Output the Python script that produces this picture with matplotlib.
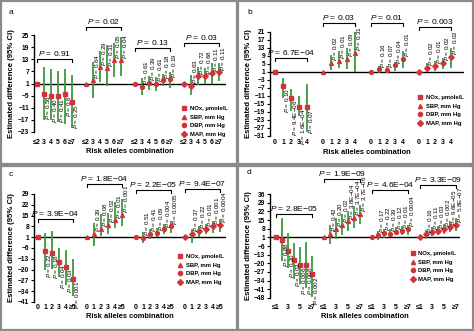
import matplotlib.pyplot as plt
from matplotlib.lines import Line2D
from matplotlib.patches import Rectangle

plt.rcParams["font.family"] = ["Liberation Sans", "DejaVu Sans"]
plt.rcParams["mathtext.fontset"] = "custom"
plt.rcParams["mathtext.it"] = "Liberation Sans:italic"
plt.rcParams["mathtext.rm"] = "Liberation Sans"
plt.rcParams["mathtext.bf"] = "Liberation Sans:bold"

RED = "#d0343a"
GREEN = "#3b9a3b"
GRAY = "#8a8a8a"
W, H = 474, 331

measures = ["NOx, μmole/L", "SBP, mm Hg", "DBP, mm Hg", "MAP, mm Hg"]
shapes = ["s", "^", "o", "D"]

# ---- panel a
a_cats = ["≤2", "3", "4", "5", "6", "≥7"]
a_est = [[1, -4, -5, -5, -4, -8],
         [1, 2.5, 9, 8.5, 12.5, 12.5],
         [1, -0.5, 1.2, 1, 2.5, 3],
         [1, 0, 4.5, 4.5, 6, 6.5]]
a_lo = [[1, -17, -17, -18, -19, -21],
        [1, -6, 1.5, 0, 4, 4.5],
        [1, -4.5, -2, -2.5, 0, -1],
        [1, -4.5, 0.5, 1, 1, 2]]
a_hi = [[1, 9, 8, 7, 8, 5],
        [1, 11.5, 17, 20, 21, 24],
        [1, 3.5, 4.5, 4, 5.5, 6.5],
        [1, 5, 9, 8.5, 11, 11]]
a_p = [["", "0.58", "0.40", "0.41", "0.6", "0.25"],
       ["", "0.64", "0.29", "0.31", "0.05", "0.04"],
       ["", "0.61", "0.39", "0.61", "0.18", "0.19"],
       ["", "0.63", "0.72", "0.68", "0.11", "0.11"]]
a_group_p = ["0.91", "0.02", "0.13", "0.03"]

# ---- panel b
b_cats = ["0", "1", "2", "3", "4"]
b_est = [[1, -6, -12, -16.5, -16.5],
         [1, 5.5, 6.5, 7.5, 10.5],
         [1, 2.3, 2, 4.3, 7.5],
         [1, 3.2, 4, 5.7, 8.5]]
b_lo = [[1, -12, -18.5, -21, -29],
        [1, 2, 3, 2.5, 1],
        [1, 0.5, 0.5, 1.5, 3],
        [1, 1, 1.5, 2.7, 3]]
b_hi = [[1, -2, -7.5, -11, -5],
        [1, 9.5, 11.5, 13, 21],
        [1, 4, 4, 6, 11.5],
        [1, 5.7, 6.5, 8.2, 13]]
b_p = [["", "0.10", "9.4E−06", "1.6E−04", "0.07"],
       ["", "0.02", "0.01", "0.09", "0.31"],
       ["", "0.16", "0.07", "0.04", "0.01"],
       ["", "0.02", "0.01", "0.02", "0.02"]]
b_group_p = ["6.7E−04", "0.03", "0.01", "0.003"]

# ---- panel c
c_cats = ["0", "1", "2", "3", "4", "≥5"]
c_est = [[1, -8, -9, -15, -18, -26],
         [1, 3, 6.5, 9, 12, 15.5],
         [1, 0.5, 3, 4, 6, 8],
         [1, 3, 5, 6.5, 8, 9]]
c_lo = [[1, -20, -19.5, -25, -30, -37],
        [1, -5, 1.5, 3, 7, 8],
        [1, -3, 0, 1, 3, 4],
        [1, -2.5, 1, 3, 4, 4.5]]
c_hi = [[1, 4, 5, -6, -7, -13],
        [1, 10.5, 16, 17, 24, 25.5],
        [1, 4.5, 6, 7, 9.5, 11.5],
        [1, 6, 8.5, 9.5, 11.5, 13]]
c_p = [["", "0.22", "0.18", "0.04", "0.03", "0.001"],
       ["", "0.39", "0.08", "0.02", "0.01", "0.001"],
       ["", "0.51", "0.41", "0.09", "0.004", "0.0005"],
       ["", "0.37", "0.22", "0.01", "0.001", "0.0004"]]
c_group_p = ["3.9E−04", "1.8E−04", "2.2E−05", "9.4E−07"]

# ---- panel d
d_cats = ["≤1", "", "3", "", "5", "", "≥7"]
d_est = [[1, -1.5, -10, -17.5, -21, -21, -29],
         [1, 4, 8, 11, 14, 17, 20],
         [1, 3, 4.5, 4, 5.5, 6.5, 8],
         [1, 3.5, 5.5, 6.5, 8, 9, 11]]
d_lo = [[1, -18, -24, -33, -37, -40, -47],
        [1, -4.5, 0, 3, 6, 8.5, 12],
        [1, -1, 0.5, 1, 2.5, 3, 3],
        [1, 0, 2, 3, 4, 5, 6]]
d_hi = [[1, 17, 4.5, -3.5, -7, -3, -14],
        [1, 11, 16.5, 19.5, 22.5, 26, 27.5],
        [1, 6.5, 8, 7.5, 9, 10, 11],
        [1, 7, 9, 10, 12, 14, 17]]
d_p = [["", "0.88", "0.20", "0.03", "0.006", "0.008", "0.002"],
       ["", "0.42", "0.20", "0.02", "3.8E−04", "3.7E−04", "3.7E−06"],
       ["", "0.17", "0.22", "0.39", "0.12", "0.01", "0.0004"],
       ["", "0.16", "0.11", "0.03", "0.002", "9.6E−05", "5.8E−07"]]
d_group_p = ["2.8E−05", "1.9E−09", "4.6E−04", "3.3E−09"]

# layout in pixels: axes box (x0, ytop, x1, ybot), first category x, px per unit, group step
layouts = {
    "a": dict(box=(34, 35, 226, 132), ylim=(-23, 25), ystep=6, pos0=37, unit=7, gstep=7,
              brackets=[13, 29, 18.6, 21], letter=(11, 13), ylab_x=12, xlab_y=152,
              tick_y=142, legend=(179, 103)),
    "b": dict(box=(270, 32, 464, 136), ylim=(-31, 21), ystep=4, pos0=275, unit=8, gstep=6,
              brackets=[8, 25.5, 25.5, 23.5], letter=(250, 13), ylab_x=249, xlab_y=153,
              tick_y=142, legend=(415, 92)),
    "c": dict(box=(34, 194, 226, 302), ylim=(-41, 29), ystep=7, pos0=38, unit=7, gstep=7,
              brackets=[12.8, 35.5, 31.6, 32.2], letter=(11, 175), ylab_x=12, xlab_y=316,
              tick_y=307, legend=(175, 251)),
    "d": dict(box=(270, 194, 460, 298), ylim=(-48, 36), ystep=7, pos0=276, unit=6, gstep=8,
              brackets=[19.8, 48, 39.2, 43.3], letter=(249, 172), ylab_x=249, xlab_y=316,
              tick_y=307, legend=(408, 248)),
}

panels = {
    "a": (a_cats, a_est, a_lo, a_hi, a_p, a_group_p),
    "b": (b_cats, b_est, b_lo, b_hi, b_p, b_group_p),
    "c": (c_cats, c_est, c_lo, c_hi, c_p, c_group_p),
    "d": (d_cats, d_est, d_lo, d_hi, d_p, d_group_p),
}

fig = plt.figure(figsize=(W / 100, H / 100), dpi=100)

# gray frames around panels
for fx, fy, fw, fh in [(1, 1, 236, 163), (238, 1, 235, 163), (1, 166, 236, 164), (238, 166, 235, 164)]:
    fig.add_artist(Rectangle((fx / W, 1 - (fy + fh) / H), fw / W, fh / H, transform=fig.transFigure,
                             fill=False, edgecolor=GRAY, lw=1.6))

for name, (cats, est, lo, hi, pv, gp) in panels.items():
    L = layouts[name]
    x0, yt, x1, yb = L["box"]
    ax = fig.add_axes([x0 / W, 1 - yb / H, (x1 - x0) / W, (yb - yt) / H])
    ax.set_xlim((x0 - L["pos0"]) / L["unit"], (x1 - L["pos0"]) / L["unit"])
    ax.set_ylim(*L["ylim"])
    yunit = (L["ylim"][1] - L["ylim"][0]) / (yb - yt)  # data per pixel
    for s in ["top", "right", "bottom"]:
        ax.spines[s].set_visible(False)
    ax.spines["left"].set_linewidth(1.0)
    ax.set_yticks(range(L["ylim"][0], L["ylim"][1] + 1, L["ystep"]))
    ax.tick_params(axis="y", length=2, width=0.8, pad=1.5, labelsize=4.8)
    for t in ax.get_yticklabels():
        t.set_fontweight("bold")
    ax.axhline(1, color="black", lw=1.0, zorder=1)

    n = len(cats)
    xt, xl = [], []
    for g in range(4):
        xs = [g * L["gstep"] + i for i in range(n)]
        xt += xs
        xl += cats
        ax.vlines(xs[1:], lo[g][1:], hi[g][1:], color=GREEN, lw=1.3, zorder=2)
        ax.plot(xs, est[g], ls="none", marker=shapes[g], ms=2.8, color=RED, zorder=3)
        for x, e, p in zip(xs, est[g], pv[g]):
            if not p:
                continue
            up = e >= -1
            ax.annotate(f"$P$ = {p}", xy=(x, e), xytext=(2.6, 1.2 if up else -1.2),
                        textcoords="offset points", rotation=90, ha="center",
                        va="bottom" if up else "top", fontsize=4.5, annotation_clip=False)
        by = L["brackets"][g]
        d = 3 * yunit
        ax.plot([xs[0], xs[0], xs[-1], xs[-1]], [by - d, by, by, by - d], color="black",
                lw=0.8, clip_on=False)
        ax.text((xs[0] + xs[-1]) / 2, by + 1.2 * yunit, f"$P$ = {gp[g]}", ha="center",
                va="bottom", fontsize=6, clip_on=False)

    ax.set_xticks(xt)
    ax.set_xticklabels(xl, fontweight="bold", fontsize=5)
    pad = (L["tick_y"] - 3 - yb) / 1.389
    ax.tick_params(axis="x", length=0, pad=max(pad, 0.5))

    fig.text((x0 + x1) / 2 / W, 1 - L["xlab_y"] / H, "Risk alleles combination", ha="center",
             va="center", fontsize=5.4, fontweight="bold")
    fig.text(L["ylab_x"] / W, 1 - (yt + yb) / 2 / H, "Estimated difference (95% CI)",
             rotation=90, ha="center", va="center", fontsize=5.6, fontweight="bold")
    fig.text(L["letter"][0] / W, 1 - L["letter"][1] / H, name, ha="center", va="center",
             fontsize=6)

    handles = [Line2D([], [], ls="none", marker=m, ms=3, color=RED) for m in shapes]
    lx, ly = L["legend"]
    ax.legend(handles, measures, loc="upper left", bbox_to_anchor=(lx / W, 1 - ly / H),
              bbox_transform=fig.transFigure, frameon=False, borderpad=0, handlelength=0.8,
              handletextpad=0.5, labelspacing=0.6, prop={"size": 4.2, "weight": "bold"})

fig.savefig("out.png", dpi=100)
